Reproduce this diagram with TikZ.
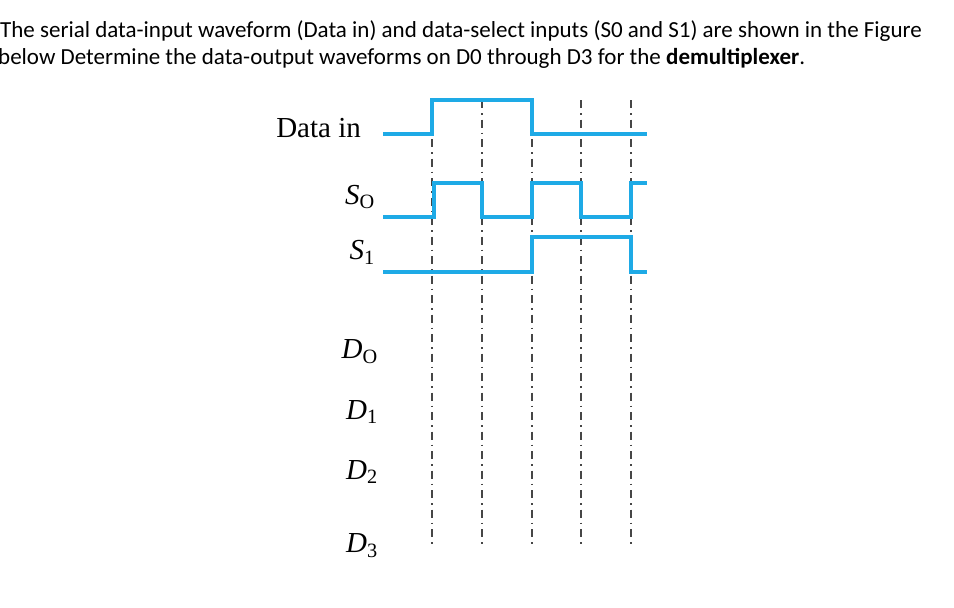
\documentclass[tikz,border=0pt]{standalone}
\usepackage{fontspec}
\setmainfont{Liberation Serif}
\newfontfamily\calfont{Carlito}
\begin{document}
\begin{tikzpicture}[x=1pt,y=-1pt,
  wave/.style={draw={rgb,255:red,30;green,170;blue,230},line width=3.4pt},
  guide/.style={draw={rgb,255:red,70;green,70;blue,70},line width=1.6pt,dash pattern=on 8pt off 5pt on 1.5pt off 5pt},
  lab/.style={anchor=east,font=\fontsize{29}{33}\selectfont,inner sep=0pt},
  txt/.style={anchor=west,font=\calfont\fontsize{23}{27}\selectfont,inner sep=0pt}]
\useasboundingbox (0,0) rectangle (954,608);
\node[txt] (t1) at (0,31) {The serial data-input waveform (Data in) and data-select inputs (S0 and S1) are shown in the Figure};
\node[txt] (t2) at (-2,58) {below Determine the data-output waveforms on D0 through D3 for the \textbf{demultiplexer}.};
\foreach \x/\n in {432/a,482/b,532/c,581/d,631/e}
  \draw[guide] (\x,100) coordinate (top\n) -- (\x,548) coordinate (bot\n);
\draw[wave] (383,134) -- (432,134) -- (432,100) -- (532,100) -- (532,134) -- (647,134);
\draw[wave] (383,217) -- (434,217) -- (434,183) -- (482,183) -- (482,217) -- (532,217) -- (532,183) -- (581,183) -- (581,217) -- (631,217) -- (631,183) -- (647,183);
\draw[wave] (383,272) -- (532,272) -- (532,237) -- (631,237) -- (631,272) -- (647,272);
\node[lab] (din) at (361,128) {Data in};
\node[lab] (s0) at (375,197) {\textit{S}$_{\mathrm{O}}$};
\node[lab] (s1) at (375,252) {\textit{S}$_{\mathrm{1}}$};
\node[lab] (d0) at (378,352) {\textit{D}$_{\mathrm{O}}$};
\node[lab] (d1) at (378,412) {\textit{D}$_{\mathrm{1}}$};
\node[lab] (d2) at (378,472) {\textit{D}$_{\mathrm{2}}$};
\node[lab] (d3) at (378,546) {\textit{D}$_{\mathrm{3}}$};
\end{tikzpicture}
\end{document}
